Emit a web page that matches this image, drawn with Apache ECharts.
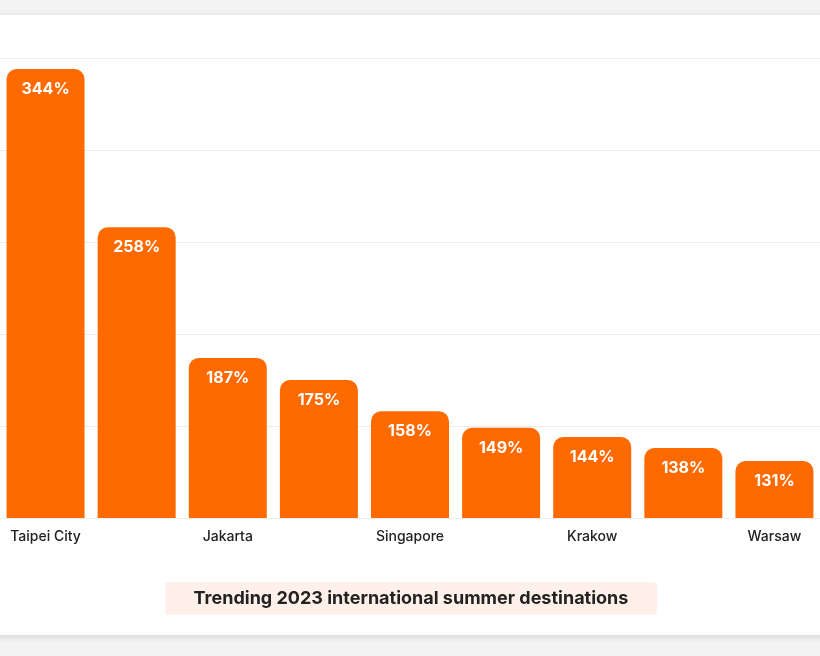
<!DOCTYPE html>
<html><head><meta charset="utf-8">
<script src="https://cdn.jsdelivr.net/npm/echarts@6/dist/echarts.min.js"></script>
<style>
html,body{margin:0;padding:0;background:#f3f3f3;width:820px;height:656px;overflow:hidden}
#card{position:absolute;left:-10px;top:15px;width:840px;height:620px;background:#fff;box-shadow:0 2px 8px rgba(0,0,0,0.12)}
#c{position:absolute;left:0;top:0;width:820px;height:656px}
</style></head><body>
<div id="card"></div>
<div id="c"></div>
<script>
const categories=["Taipei City","Tokyo","Jakarta","Auckland","Singapore","Palermo","Krakow","Osaka","Warsaw"];
const values=[344,258,187,175,158,149,144,138,131];
const title="Trending 2023 international summer destinations";
const chart=echarts.init(document.getElementById('c'));
chart.setOption({
  animation:false,
  grid:{left:-33,right:-20,top:58,bottom:138,containLabel:false},
  xAxis:{type:'category',data:categories,axisLine:{show:false},axisTick:{show:false},
    axisLabel:{color:'#222',fontSize:14,fontWeight:500,fontFamily:'Inter',margin:12}},
  yAxis:{type:'value',min:100,max:350,interval:50,axisLabel:{show:false},
    splitLine:{lineStyle:{color:'#ececec'}}},
  series:[{type:'bar',data:values,barWidth:78,
    itemStyle:{color:'#ff6a00',borderRadius:[10,10,0,0]},
    label:{show:true,position:'insideTop',distance:12,color:'#fff',fontSize:16,fontWeight:'bold',fontFamily:'Inter',formatter:p=>p.value+'%'}}],
  graphic:[{type:'rect',shape:{x:165,y:582,width:492,height:33,r:3},style:{fill:'#fff1ea'}},
    {type:'text',x:411,y:599,style:{text:title,fill:'#222',font:'bold 18px Inter',align:'center',verticalAlign:'middle'}}]
});
</script></body></html>
